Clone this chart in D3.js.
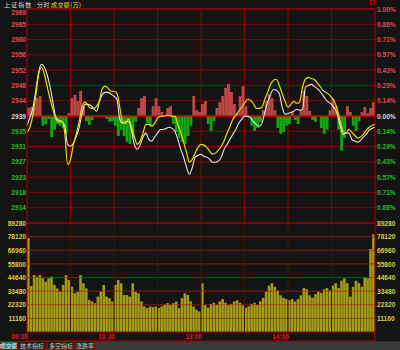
<!DOCTYPE html>
<html>
<head>
<meta charset="utf-8">
<script src="https://cdn.jsdelivr.net/npm/d3@7"></script>
<style>
  html, body { margin: 0; padding: 0; background: #141414; }
  svg { display: block; }
</style>
</head>
<body>
<div id="chart"></div>
<script>
/* Intraday chart: 上证指数 分时 + 成交额 */

// Tick labels
const priceLabels = ["2969", "2965", "2960", "2956", "2952", "2948", "2944", "2939", "2935", "2931", "2927", "2923", "2918", "2914"];
const pctLabels = ["1.00%", "0.86%", "0.71%", "0.57%", "0.43%", "0.29%", "0.14%", "0.00%", "0.14%", "0.29%", "0.43%", "0.57%", "0.71%", "0.86%"];
const volLabels = ["89280", "78120", "66960", "55800", "44640", "33480", "22320", "11160"];
const timeLabels = ["09:30", "10:30", "13:00", "14:00"];
const timeMinutes = [0, 60, 120, 180];
const tabLabels = ["成交额", "技术指标", "多空指标", "涨跌率"];

// Index (white) and leading index (yellow), one point every 2 minutes
const whitePrice = [
  2936.8, 2939.0, 2941.5, 2946.2, 2951.4, 2953.6, 2952.8, 2950.6, 2947.3, 2942.9,
  2939.0, 2938.2, 2937.9, 2936.8, 2931.6, 2931.1, 2931.9, 2933.8, 2936.3, 2940.1,
  2942.6, 2942.6, 2942.3, 2941.5, 2940.7, 2943.4, 2945.4, 2945.9, 2945.9, 2945.4,
  2944.8, 2944.0, 2938.5, 2937.4, 2937.9, 2937.9, 2935.7, 2931.6, 2930.3, 2931.4,
  2933.6, 2934.7, 2933.0, 2932.5, 2933.6, 2934.7, 2935.7, 2935.7, 2936.0, 2936.3,
  2936.0, 2935.2, 2933.0, 2930.3, 2928.1, 2925.3, 2923.4, 2925.3, 2928.1, 2928.6,
  2928.9, 2928.3, 2928.1, 2927.5, 2926.7, 2926.7, 2927.0, 2928.1, 2930.3, 2931.6,
  2933.0, 2934.4, 2935.7, 2937.4, 2938.5, 2939.3, 2939.3, 2939.0, 2937.9, 2937.1,
  2936.6, 2937.4, 2940.4, 2943.2, 2945.4, 2946.7, 2946.5, 2945.6, 2941.8, 2939.9,
  2940.1, 2940.4, 2940.7, 2941.2, 2941.0, 2941.2, 2947.3, 2947.8, 2948.1, 2947.6,
  2947.0, 2946.2, 2945.1, 2944.0, 2943.2, 2942.6, 2941.5, 2939.9, 2936.6, 2934.4,
  2934.7, 2934.7, 2933.0, 2932.5, 2932.2, 2932.7, 2933.6, 2934.4, 2935.5, 2936.0,
  2936.3
];
const yellowPrice = [
  2934.9, 2936.3, 2939.6, 2944.8, 2950.8, 2952.8, 2950.8, 2947.3, 2944.0, 2941.0,
  2938.5, 2937.7, 2937.9, 2934.9, 2926.1, 2927.5, 2931.6, 2934.4, 2937.9, 2941.8,
  2943.2, 2942.3, 2941.5, 2941.5, 2942.1, 2943.7, 2947.0, 2947.6, 2947.0, 2946.2,
  2946.2, 2945.6, 2941.8, 2937.7, 2937.4, 2938.5, 2936.6, 2933.8, 2931.6, 2932.5,
  2934.7, 2937.1, 2937.1, 2936.6, 2937.4, 2938.8, 2939.3, 2939.3, 2939.6, 2939.6,
  2939.3, 2939.3, 2937.1, 2934.9, 2932.2, 2929.4, 2926.7, 2927.5, 2929.2, 2930.8,
  2931.6, 2931.4, 2930.8, 2929.7, 2928.9, 2929.2, 2930.0, 2931.1, 2932.7, 2934.7,
  2936.6, 2938.5, 2939.6, 2940.7, 2941.8, 2942.9, 2944.0, 2943.7, 2942.9, 2941.5,
  2941.5, 2941.8, 2944.0, 2945.9, 2948.1, 2949.2, 2949.5, 2947.8, 2945.6, 2943.4,
  2941.8, 2942.6, 2943.4, 2942.9, 2943.2, 2947.3, 2949.5, 2950.0, 2949.7, 2949.5,
  2948.6, 2947.6, 2946.5, 2945.9, 2945.4, 2944.5, 2943.4, 2941.2, 2937.9, 2935.2,
  2934.7, 2935.7, 2934.9, 2934.1, 2933.3, 2933.6, 2934.4, 2935.5, 2936.3, 2936.8,
  2937.1
];

// Buy/sell strength bars (red up, green down), per 2-minute bin, in index points
const strength = [
  2.2, 2.5, 2.7, 4.9, 5.5, -2.7, -2.2, -0.8, -5.8, -3.8,
  -2.2, -2.7, -3.3, -4.9, 0.8, 4.9, 5.8, 4.1, 6.9, 2.7,
  -1.4, -2.5, -1.1, 0, 0, 0, 0, -0.8, -1.6, -1.4,
  -2.7, -5.5, -3.8, -5.5, -7.1, -7.7, -6.0, -1.6, 2.2, 4.9,
  5.5, -1.9, -2.7, 2.7, 4.9, 2.7, 1.1, 0, 2.2, 2.7,
  -2.2, -4.4, -6.0, -7.1, -7.7, -5.5, -2.7, 5.5, 1.6, 1.1,
  3.3, 4.1, -2.2, -4.1, -1.4, 2.2, 3.8, 5.5, 7.7, 8.8,
  6.6, 3.3, 0.8, 5.5, 8.2, 2.7, 0, -2.7, -4.1, -3.3,
  -1.6, 1.6, 4.1, 6.0, 4.9, 1.6, -3.3, -4.9, -4.4, -2.7,
  -2.2, 1.1, -1.1, -2.2, 1.6, 6.9, 5.5, 1.4, -1.1, -1.6,
  0, -3.3, -4.9, -3.8, 1.6, 4.9, 2.7, -3.8, -9.5, -6.0,
  2.7, 1.1, -2.7, -4.1, -1.4, 1.1, 2.5, 0.8, 2.2, 3.8
];

// Turnover (万), per 2-minute bin
const volume = [
  77000, 37700, 46700, 45300, 46600, 44000, 41200, 43900, 45300, 38500,
  35700, 33000, 38500, 46600, 42500, 37100, 31700, 33000, 46600, 39800,
  35700, 26300, 25000, 23600, 29000, 33000, 38500, 29000, 27700, 25000,
  38500, 42500, 39800, 30300, 30300, 29000, 39800, 33000, 31700, 25000,
  20900, 19600, 20900, 20400, 20900, 19600, 20900, 22300, 23600, 22300,
  23600, 25000, 19600, 27700, 31700, 30300, 25000, 20900, 18200, 16900,
  39800, 22000, 20000, 23000, 24000, 22000, 25000, 27000, 24000, 22000,
  23000, 25000, 26000, 24000, 22000, 20000, 21000, 23000, 24000, 22000,
  25000, 28000, 33000, 38000, 40000, 37000, 34000, 30000, 28000, 27000,
  26000, 27000, 25000, 27000, 30000, 36000, 35000, 30000, 28000, 31000,
  33000, 32000, 35000, 36000, 34000, 38000, 40000, 36000, 42000, 44000,
  40000, 29000, 37000, 42000, 40000, 37000, 45000, 44000, 68000, 80000
];

const W = 400, H = 350;
const box = { left: 27, right: 375, top: 9, priceBottom: 223, volBottom: 332, timeBottom: 341 };
const base = 2939.4, step = 4.2;
const numFont = "'Liberation Sans', Arial, sans-serif";
const cjkFont = "'Noto Sans CJK SC', sans-serif";
const upColor = "#e8484a", downColor = "#18c418", flatColor = "#d8d8d8";

const svg = d3.select("#chart")
    .append("svg")
    .attr("width", W)
    .attr("height", H);

svg.append("rect").attr("width", W).attr("height", H).attr("fill", "#141414");

const x = d3.scaleLinear().domain([0, 240]).range([box.left, box.right]);
const yPrice = d3.scaleLinear()
    .domain([base - 7 * step, base + 7 * step])
    .range([box.priceBottom, box.top]);
const yVol = d3.scaleLinear().domain([0, 89280]).range([box.volBottom, box.priceBottom]);

const priceTicks = priceLabels.map((d, i) => base + (7 - i) * step);
const volTicks = volLabels.map(Number);
const gridColor = "#8a0000";

// Price panel grid
svg.append("g")
    .selectAll("line")
    .data(priceTicks.concat([base - 7 * step]))
    .join("line")
    .attr("x1", box.left).attr("x2", box.right)
    .attr("y1", d => yPrice(d)).attr("y2", d => yPrice(d))
    .attr("stroke", gridColor)
    .attr("stroke-width", 1);

svg.append("g")
    .selectAll("line")
    .data(d3.range(30, 240, 30))
    .join("line")
    .attr("x1", d => x(d)).attr("x2", d => x(d))
    .attr("y1", box.top).attr("y2", box.priceBottom)
    .attr("stroke", gridColor);

// Strength bars
svg.append("g")
    .selectAll("rect")
    .data(strength)
    .join("rect")
    .attr("x", (d, i) => x(2 * i))
    .attr("width", x(2) - x(0))
    .attr("y", d => yPrice(base + Math.max(d, 0)))
    .attr("height", d => Math.abs(yPrice(base + d) - yPrice(base)))
    .attr("fill", d => d >= 0 ? "#bf4646" : "#12a412");

// Baseline
svg.append("line")
    .attr("x1", box.left).attr("x2", box.right)
    .attr("y1", yPrice(base)).attr("y2", yPrice(base))
    .attr("stroke", "#d40000").attr("stroke-width", 1.4);

// Lines
const line = d3.line()
    .x((d, i) => x(2 * i))
    .y(d => yPrice(d))
    .curve(d3.curveMonotoneX);

svg.append("path").datum(whitePrice)
    .attr("d", line).attr("fill", "none")
    .attr("stroke", "#e6e6e6").attr("stroke-width", 1.1);
svg.append("path").datum(yellowPrice)
    .attr("d", line).attr("fill", "none")
    .attr("stroke", "#e8e000").attr("stroke-width", 1.2);

// Volume bars
svg.append("g")
    .selectAll("rect")
    .data(volume)
    .join("rect")
    .attr("x", (d, i) => x(2 * i))
    .attr("width", x(2) - x(0) - 0.3)
    .attr("y", d => yVol(d))
    .attr("height", d => yVol(0) - yVol(d))
    .attr("fill", "#a29c18");

// Volume grid drawn over bars
svg.append("g")
    .selectAll("line")
    .data(volTicks.slice(1))
    .join("line")
    .attr("x1", box.left).attr("x2", box.right)
    .attr("y1", d => yVol(d)).attr("y2", d => yVol(d))
    .attr("stroke", "#b82000").attr("stroke-opacity", 0.7);

svg.append("g")
    .selectAll("line")
    .data(d3.range(30, 240, 30))
    .join("line")
    .attr("x1", d => x(d)).attr("x2", d => x(d))
    .attr("y1", box.priceBottom).attr("y2", box.volBottom)
    .attr("stroke", "#3a1800");

// Panel borders
const borderColor = "#b00000";
[box.top, box.priceBottom, box.volBottom, box.timeBottom].forEach(yy => {
    svg.append("line")
        .attr("x1", box.left).attr("x2", box.right)
        .attr("y1", yy).attr("y2", yy)
        .attr("stroke", borderColor);
});
[box.left, box.right].forEach(xx => {
    svg.append("line")
        .attr("x1", xx).attr("x2", xx)
        .attr("y1", box.top).attr("y2", box.timeBottom)
        .attr("stroke", borderColor);
});

// Axes
const styleAxis = g => {
    g.select(".domain").remove();
    g.attr("font-family", numFont).attr("font-size", 6.6).attr("font-weight", "bold");
};

svg.append("g")
    .attr("transform", `translate(${box.left - 1},0)`)
    .call(d3.axisLeft(yPrice).tickValues(priceTicks).tickFormat((d, i) => priceLabels[i]).tickSize(0).tickPadding(0))
    .call(styleAxis)
    .selectAll("text")
    .attr("dy", (d, i) => i === 0 ? "0.88em" : "0.32em")
    .attr("fill", (d, i) => i < 7 ? upColor : (i === 7 ? flatColor : downColor));

svg.append("g")
    .attr("transform", `translate(${box.right + 2},0)`)
    .call(d3.axisRight(yPrice).tickValues(priceTicks).tickFormat((d, i) => pctLabels[i]).tickSize(0).tickPadding(0))
    .call(styleAxis)
    .selectAll("text")
    .attr("fill", (d, i) => i < 7 ? upColor : (i === 7 ? flatColor : downColor));

svg.append("g")
    .attr("transform", `translate(${box.left - 1},0)`)
    .call(d3.axisLeft(yVol).tickValues(volTicks).tickFormat((d, i) => volLabels[i]).tickSize(0).tickPadding(0))
    .call(styleAxis)
    .selectAll("text").attr("fill", "#d8d040");

svg.append("g")
    .attr("transform", `translate(${box.right + 2},0)`)
    .call(d3.axisRight(yVol).tickValues(volTicks).tickFormat((d, i) => volLabels[i]).tickSize(0).tickPadding(0))
    .call(styleAxis)
    .selectAll("text").attr("fill", "#d8d040");

// Time labels
svg.append("g")
    .selectAll("text")
    .data(timeLabels)
    .join("text")
    .attr("x", (d, i) => x(timeMinutes[i]) + 1)
    .attr("y", 338.8)
    .attr("text-anchor", "end")
    .attr("font-family", numFont).attr("font-size", 6.6).attr("font-weight", "bold")
    .attr("fill", "#d81c1c")
    .text(d => d);

// Header
const header = svg.append("g").attr("font-family", cjkFont).attr("font-size", 6);
header.append("text").attr("x", 4).attr("y", 7).attr("letter-spacing", 1.1).attr("fill", "#dcdcdc").text("上证指数");
header.append("text").attr("x", 37).attr("y", 7).attr("letter-spacing", 0.5).attr("fill", "#dcdcdc").text("分时");
header.append("text").attr("x", 51).attr("y", 7).attr("letter-spacing", 0.4).attr("fill", "#e8e030").text("成交额(万)");
svg.append("rect").attr("x", 370.5).attr("y", 0.5).attr("width", 4).attr("height", 4)
    .attr("fill", "none").attr("stroke", "#c00000");

// Bottom tabs
const tabEdges = [0, 17, 47, 75, 95];
svg.append("rect").attr("x", 0).attr("y", box.timeBottom + 0.5).attr("width", W).attr("height", H - box.timeBottom)
    .attr("fill", "#3a3a3a");
const tabs = svg.append("g");
tabLabels.forEach((t, i) => {
    tabs.append("rect")
        .attr("x", tabEdges[i] + 0.5).attr("y", box.timeBottom + 0.5)
        .attr("width", tabEdges[i + 1] - tabEdges[i] - 1).attr("height", H - box.timeBottom - 1)
        .attr("fill", i === 0 ? "#0a7c80" : "#1c1c1c")
        .attr("stroke", "#a00000").attr("stroke-width", 1);
    tabs.append("text")
        .attr("x", (tabEdges[i] + tabEdges[i + 1]) / 2)
        .attr("y", 348.4)
        .attr("text-anchor", "middle")
        .attr("font-family", cjkFont).attr("font-size", 6)
        .attr("fill", i === 0 ? "#e8f8f8" : "#d0d0d0")
        .text(t);
});
</script>
</body>
</html>
